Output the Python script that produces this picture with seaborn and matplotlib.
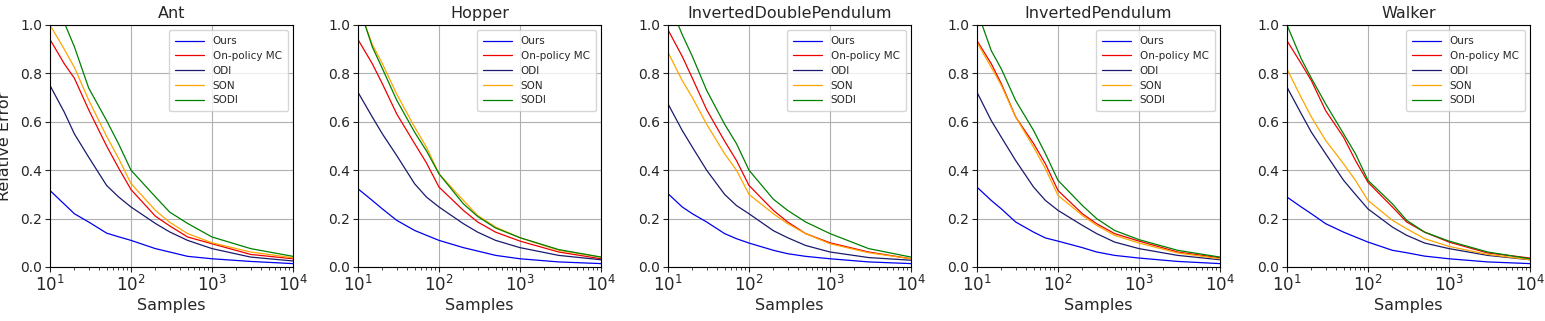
import matplotlib
matplotlib.use("Agg")
import matplotlib.pyplot as plt
import numpy as np
import pandas as pd
import seaborn as sns

ENVS = ["Ant", "Hopper", "InvertedDoublePendulum", "InvertedPendulum", "Walker"]
METHODS = ["Ours", "On-policy MC", "ODI", "SON", "SODI"]
COLORS = {"Ours": "#0000ee", "On-policy MC": "#ee0000", "ODI": "#1a1a6e",
          "SON": "#ffa500", "SODI": "#008000"}

SAMPLES = [10, 15, 20, 30, 50, 70, 100, 200, 300, 500, 1000, 3000, 10000]

# relative error, one list per env / method
ant = {
    "Ours":         [0.316, 0.26, 0.22, 0.186, 0.14, 0.125, 0.11, 0.076, 0.062, 0.044, 0.034, 0.023, 0.014],
    "On-policy MC": [0.94, 0.84, 0.78, 0.65, 0.50, 0.41, 0.32, 0.21, 0.17, 0.124, 0.096, 0.052, 0.034],
    "ODI":          [0.75, 0.64, 0.55, 0.454, 0.337, 0.29, 0.248, 0.18, 0.145, 0.11, 0.076, 0.041, 0.025],
    "SON":          [1.0, 0.90, 0.825, 0.69, 0.54, 0.45, 0.345, 0.234, 0.185, 0.138, 0.10, 0.062, 0.038],
    "SODI":         [1.12, 1.01, 0.91, 0.74, 0.605, 0.51, 0.40, 0.29, 0.227, 0.18, 0.124, 0.076, 0.044],
}
hopper = {
    "Ours":         [0.323, 0.275, 0.24, 0.193, 0.151, 0.131, 0.11, 0.08, 0.066, 0.048, 0.034, 0.021, 0.014],
    "On-policy MC": [0.94, 0.84, 0.757, 0.633, 0.51, 0.43, 0.33, 0.234, 0.186, 0.144, 0.107, 0.062, 0.034],
    "ODI":          [0.722, 0.62, 0.55, 0.461, 0.344, 0.289, 0.248, 0.179, 0.144, 0.11, 0.08, 0.048, 0.03],
    "SON":          [1.08, 0.92, 0.84, 0.715, 0.578, 0.495, 0.385, 0.275, 0.213, 0.165, 0.121, 0.069, 0.041],
    "SODI":         [1.09, 0.91, 0.82, 0.69, 0.557, 0.48, 0.385, 0.261, 0.209, 0.161, 0.121, 0.072, 0.041],
}
inv_double = {
    "Ours":         [0.303, 0.248, 0.22, 0.186, 0.138, 0.117, 0.099, 0.069, 0.055, 0.044, 0.034, 0.021, 0.014],
    "On-policy MC": [0.98, 0.87, 0.78, 0.65, 0.52, 0.44, 0.337, 0.234, 0.186, 0.138, 0.10, 0.062, 0.034],
    "ODI":          [0.674, 0.564, 0.495, 0.40, 0.30, 0.254, 0.22, 0.15, 0.121, 0.089, 0.062, 0.039, 0.028],
    "SON":          [0.887, 0.77, 0.70, 0.59, 0.468, 0.40, 0.30, 0.22, 0.179, 0.138, 0.096, 0.059, 0.034],
    "SODI":         [1.1, 0.96, 0.87, 0.73, 0.59, 0.51, 0.40, 0.28, 0.234, 0.186, 0.138, 0.076, 0.041],
}
inv_pendulum = {
    "Ours":         [0.33, 0.275, 0.24, 0.186, 0.144, 0.12, 0.107, 0.08, 0.062, 0.048, 0.037, 0.023, 0.014],
    "On-policy MC": [0.935, 0.84, 0.757, 0.62, 0.51, 0.426, 0.316, 0.22, 0.179, 0.138, 0.107, 0.062, 0.038],
    "ODI":          [0.722, 0.605, 0.536, 0.44, 0.33, 0.275, 0.234, 0.172, 0.138, 0.103, 0.076, 0.048, 0.03],
    "SON":          [0.928, 0.825, 0.75, 0.62, 0.495, 0.406, 0.296, 0.213, 0.172, 0.131, 0.099, 0.058, 0.034],
    "SODI":         [1.06, 0.894, 0.818, 0.688, 0.564, 0.468, 0.358, 0.254, 0.20, 0.151, 0.113, 0.069, 0.041],
}
walker = {
    "Ours":         [0.289, 0.248, 0.22, 0.179, 0.144, 0.124, 0.103, 0.069, 0.059, 0.045, 0.034, 0.021, 0.014],
    "On-policy MC": [0.935, 0.84, 0.77, 0.646, 0.536, 0.44, 0.35, 0.248, 0.186, 0.144, 0.103, 0.058, 0.037],
    "ODI":          [0.743, 0.633, 0.557, 0.468, 0.358, 0.30, 0.24, 0.165, 0.131, 0.099, 0.076, 0.048, 0.03],
    "SON":          [0.818, 0.70, 0.62, 0.523, 0.426, 0.358, 0.275, 0.193, 0.158, 0.117, 0.085, 0.052, 0.03],
    "SODI":         [1.0, 0.86, 0.78, 0.674, 0.55, 0.468, 0.358, 0.261, 0.193, 0.144, 0.107, 0.062, 0.034],
}
DATA = [ant, hopper, inv_double, inv_pendulum, walker]

sns.set_theme(style="ticks")
plt.rcParams["font.family"] = ["DejaVu Sans"]

fig = plt.figure(figsize=(15.45, 3.21), dpi=100)
lefts = [50, 358, 668, 977, 1287]

for i, (env, series) in enumerate(zip(ENVS, DATA)):
    ax = fig.add_axes([lefts[i] / 1545, 54 / 321, 243 / 1545, 242 / 321])
    rows = []
    for m in METHODS:
        for s, v in zip(SAMPLES, series[m]):
            rows.append({"Samples": s, "err": v, "method": m})
    df = pd.DataFrame(rows)
    sns.lineplot(data=df, x="Samples", y="err", hue="method", hue_order=METHODS,
                 palette=COLORS, linewidth=0.9, ax=ax)
    ax.set_xscale("log")
    ax.set_xlim(10, 10000)
    ax.set_ylim(0, 1.0)
    ax.set_yticks([0, 0.2, 0.4, 0.6, 0.8, 1.0])
    ax.set_yticklabels(["0.0", "0.2", "0.4", "0.6", "0.8", "1.0"])
    ax.grid(True, which="major", color="#b0b0b0", linewidth=0.8)
    ax.tick_params(axis="x", which="major", labelsize=12, length=3.5, width=0.8, pad=2)
    ax.tick_params(axis="x", which="minor", length=2, width=0.6)
    ax.tick_params(axis="y", labelsize=10, length=3.5, width=0.8, pad=2)
    for sp in ax.spines.values():
        sp.set_color("black")
        sp.set_linewidth(0.8)
    ax.set_title(env, fontsize=11.5, pad=5)
    ax.set_xlabel("Samples", fontsize=11.5, labelpad=2)
    if i == 0:
        # the reference crops this label at the left edge
        ax.set_ylabel("Relative Error", fontsize=11.5)
        ax.yaxis.set_label_coords(-0.155, 0.5)
    else:
        ax.set_ylabel("")
    handles, labels = ax.get_legend_handles_labels()
    ax.legend(handles, labels, loc="upper right", fontsize=7.5, frameon=True,
              fancybox=True, edgecolor="#cccccc", handlelength=2.8,
              borderaxespad=0.5, labelspacing=0.45, borderpad=0.6)

fig.savefig("out.png", dpi=100)
